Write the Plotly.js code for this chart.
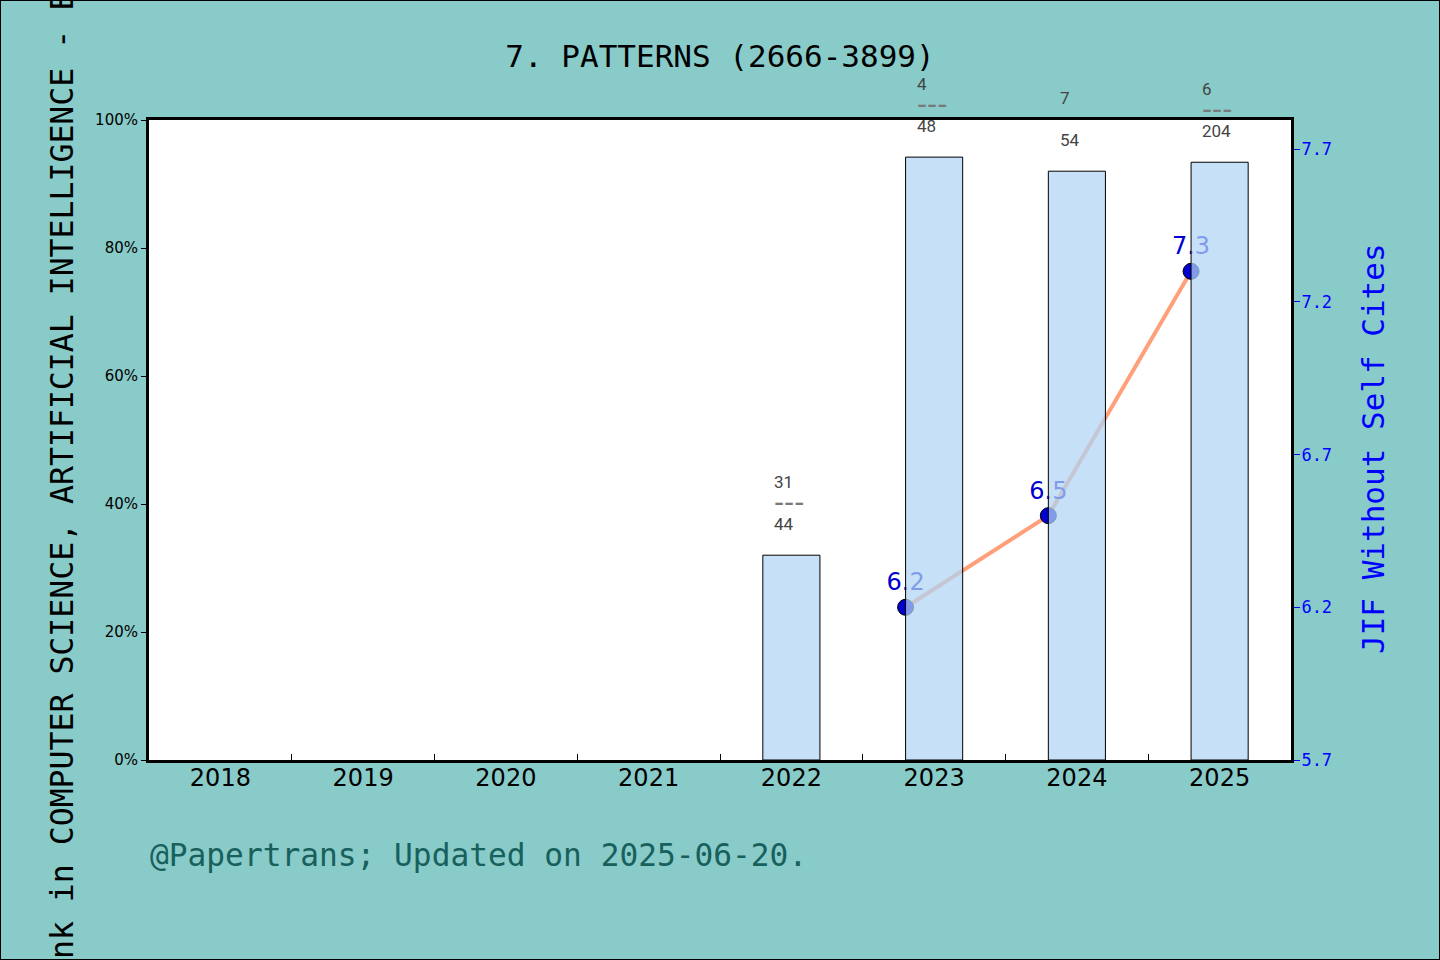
<!DOCTYPE html>
<html>
<head>
<meta charset="utf-8">
<script src="https://cdn.plot.ly/plotly-3.0.1.min.js"></script>
<style>
  html, body { margin: 0; padding: 0; background: #88CBC9; }
  #wrap { position: relative; width: 1440px; height: 960px; }
  #chart { width: 1440px; height: 960px; }
  #frame { position: absolute; left: 0; top: 0; width: 1440px; height: 960px; box-sizing: border-box; border: 1px solid #000; pointer-events: none; }
</style>
</head>
<body>
<div id="wrap"><div id="chart"></div><div id="frame"></div></div>
<script>
// ---- data ----
const years = ['2018', '2019', '2020', '2021', '2022', '2023', '2024', '2025'];
const percentile = [null, null, null, null, 0.32, 0.942, 0.920, 0.934];
const rankNum = [null, null, null, null, '31', '4', '7', '6'];
const rankSep = [null, null, null, null, '---', '---', '', '---'];
const rankDen = [null, null, null, null, '44', '48', '54', '204'];
const jifYears = ['2023', '2024', '2025'];
const jifValues = [6.2, 6.5, 7.3];
const pctTicks = [0, 0.2, 0.4, 0.6, 0.8, 1.0];
const jifTicks = [5.7, 6.2, 6.7, 7.2, 7.7];
const chartTitle = '7. PATTERNS (2666-3899)';
const leftTitle = 'Rank in COMPUTER SCIENCE, ARTIFICIAL INTELLIGENCE - ESCI';
const rightTitle = 'JIF Without Self Cites';
const footer = '@Papertrans; Updated on 2025-06-20.';

// ---- helpers ----
const idx = years.map((_, i) => i);
const halfTicks = idx.slice(0, -1).map(i => i + 0.5);
const jifX = jifYears.map(y => years.indexOf(y) - 0.2);

const MONO = 'DejaVu Sans Mono, monospace';

const lineTrace = {
  type: 'scatter',
  x: jifX,
  y: jifValues,
  xaxis: 'x', yaxis: 'y',
  mode: 'lines+markers+text',
  line: { color: '#FFA07A', width: 4 },
  marker: { size: 16, color: '#0000CD', line: { color: '#000', width: 1 } },
  text: jifValues.map(v => v.toFixed(1)),
  textposition: 'top center',
  textfont: { family: 'DejaVu Sans, sans-serif', size: 24, color: '#0000CD' },
  cliponaxis: false,
  hoverinfo: 'skip'
};

const barTrace = {
  type: 'bar',
  x: idx,
  y: percentile,
  xaxis: 'x', yaxis: 'y2',
  width: 0.4,
  marker: { color: 'rgba(175,212,244,0.73)', line: { color: '#000', width: 1 } },
  hoverinfo: 'skip'
};

const annotations = [];
const numFont = { family: 'Roboto, DejaVu Sans, sans-serif', size: 17, color: '#444444' };
idx.forEach(i => {
  if (percentile[i] == null) return;
  const base = {
    xref: 'x', yref: 'y2',
    x: i - 0.135, y: percentile[i],
    xanchor: 'left', yanchor: 'middle',
    align: 'left', showarrow: false
  };
  annotations.push(Object.assign({}, base, { text: rankNum[i], yshift: 73, font: numFont }));
  if (rankSep[i]) {
    annotations.push(Object.assign({}, base, {
      text: rankSep[i], yshift: 53,
      font: { family: 'DejaVu Sans, sans-serif', size: 28, color: '#7a7a7a' }
    }));
  }
  annotations.push(Object.assign({}, base, { text: rankDen[i], yshift: 31, font: numFont }));
});

// left rotated title
annotations.push({
  xref: 'paper', yref: 'paper',
  x: (62 - 149) / 1142, y: (760 - 466) / 640,
  xanchor: 'center', yanchor: 'middle',
  textangle: -90, showarrow: false,
  text: leftTitle,
  font: { family: MONO, size: 31.5, color: '#000' }
});
// right rotated title
annotations.push({
  xref: 'paper', yref: 'paper',
  x: (1373 - 149) / 1142, y: (760 - 449) / 640,
  xanchor: 'center', yanchor: 'middle',
  textangle: -90, showarrow: false,
  text: rightTitle,
  font: { family: MONO, size: 31, color: '#0000FF' }
});
// footer
annotations.push({
  xref: 'paper', yref: 'paper',
  x: (148 - 149) / 1142, y: (760 - 855) / 640,
  xanchor: 'left', yanchor: 'middle',
  showarrow: false,
  text: footer,
  font: { family: MONO, size: 31.2, color: '#17605B' }
});

const layout = {
  width: 1440, height: 960,
  paper_bgcolor: '#88CBC9',
  plot_bgcolor: '#FFFFFF',
  margin: { l: 149, r: 149, t: 120, b: 200, pad: 0 },
  showlegend: false,
  title: {
    text: chartTitle,
    x: 0.5, xref: 'paper', xanchor: 'center',
    y: 1 - 56 / 960, yref: 'container', yanchor: 'middle',
    font: { family: MONO, size: 31, color: '#000' }
  },
  xaxis: {
    range: [-0.5, 7.5],
    tickmode: 'array', tickvals: idx, ticktext: years,
    ticks: '', showgrid: false, zeroline: false,
    showline: true, linewidth: 3, linecolor: '#000', mirror: true,
    tickfont: { family: 'DejaVu Sans, sans-serif', size: 24, color: '#000' },
    ticklabelstandoff: -6,
    minor: { tickmode: 'array', tickvals: halfTicks, ticks: 'inside', ticklen: 6, tickwidth: 1, tickcolor: '#000', showgrid: false }
  },
  yaxis: {
    side: 'right',
    range: [5.7, 7.7955],
    tickmode: 'array', tickvals: jifTicks, ticktext: jifTicks.map(v => v.toFixed(1)),
    ticks: 'outside', ticklen: 6, tickwidth: 1, tickcolor: '#0000FF',
    tickfont: { family: MONO, size: 17, color: '#0000FF' },
    ticklabelstandoff: -2,
    showgrid: false, zeroline: false,
    showline: true, linewidth: 3, linecolor: '#000', mirror: true
  },
  yaxis2: {
    overlaying: 'y', side: 'left',
    range: [0, 1],
    tickmode: 'array', tickvals: pctTicks, tickformat: '.0%',
    ticks: 'outside', ticklen: 7, tickwidth: 1, tickcolor: '#000',
    tickfont: { family: 'DejaVu Sans, sans-serif', size: 15, color: '#000' },
    showgrid: false, zeroline: false, showline: false
  },
  annotations: annotations
};

Plotly.newPlot('chart', [lineTrace, barTrace], layout, { staticPlot: true, displayModeBar: false });
</script>
</body>
</html>
